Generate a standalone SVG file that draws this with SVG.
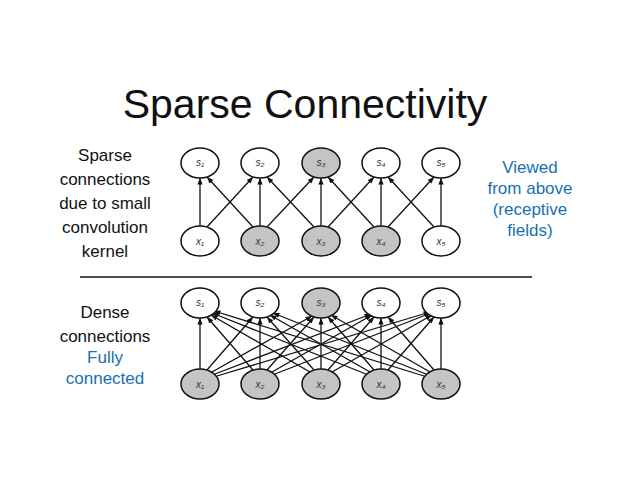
<svg xmlns="http://www.w3.org/2000/svg" width="638" height="478" viewBox="0 0 638 478">
<defs>
<marker id="ah" viewBox="0 0 10 10" refX="10" refY="5" markerWidth="5" markerHeight="5" orient="auto"><path d="M0,1 L10,5 L0,9 z" fill="#111"/></marker>
<style>
.n{stroke:#111;stroke-width:1.5;fill:#fff}
.g{fill:#c4c4c4}
.e line{stroke:#111;stroke-width:1.3;marker-end:url(#ah)}
.t{font-family:"Liberation Sans",Arial,sans-serif;font-size:17px;fill:#111;text-anchor:middle}
.b{fill:#1a6fb0}
.v{font-family:"Liberation Sans",Arial,sans-serif;font-size:10px;font-style:italic;fill:#333;text-anchor:middle}
</style>
</defs>
<rect width="638" height="478" fill="#fff"/>
<text x="305" y="118" font-family="Liberation Sans,Arial,sans-serif" font-size="41" text-anchor="middle" fill="#111">Sparse Connectivity</text>
<g id="left-top" class="t"><text x="105" y="161">Sparse</text><text x="105" y="185">connections</text><text x="105" y="209">due to small</text><text x="105" y="233">convolution</text><text x="105" y="257">kernel</text></g>
<g id="right-top" class="t b"><text x="530" y="173" class="t b">Viewed</text><text x="530" y="194" class="t b">from above</text><text x="530" y="215" class="t b">(receptive</text><text x="530" y="236" class="t b">fields)</text></g>
<g id="left-bottom" class="t"><text x="105" y="318">Dense</text><text x="105" y="342">connections</text><text x="105" y="363" class="t b">Fully</text><text x="105" y="384" class="t b">connected</text></g>
<line x1="80" y1="277" x2="532" y2="277" stroke="#111" stroke-width="1.5"/>
<g id="connectors" class="e">
<line x1="200" y1="226" x2="200" y2="178"/><line x1="207" y1="227" x2="253" y2="177"/>
<line x1="253" y1="227" x2="207" y2="177" stroke-width="2.5"/><line x1="260" y1="226" x2="260" y2="178" stroke-width="2.5"/><line x1="267" y1="227" x2="314" y2="177"/>
<line x1="314" y1="227" x2="267" y2="177"/><line x1="321" y1="226" x2="321" y2="178"/><line x1="328" y1="227" x2="374" y2="177" stroke-width="2.5"/>
<line x1="374" y1="227" x2="328" y2="177"/><line x1="381" y1="226" x2="381" y2="178"/><line x1="388" y1="227" x2="434" y2="177"/>
<line x1="434" y1="227" x2="388" y2="177"/><line x1="441" y1="226" x2="441" y2="178"/>
<line x1="200" y1="369" x2="200" y2="318"/><line x1="207" y1="370" x2="253" y2="317"/><line x1="212" y1="372" x2="312" y2="316"/><line x1="215" y1="374" x2="371" y2="314"/><line x1="217" y1="376" x2="430" y2="312"/>
<line x1="253" y1="370" x2="207" y2="317"/><line x1="260" y1="369" x2="260" y2="318"/><line x1="267" y1="370" x2="314" y2="317"/><line x1="272" y1="372" x2="372" y2="315"/><line x1="275" y1="374" x2="431" y2="313"/>
<line x1="310" y1="372" x2="211" y2="315"/><line x1="314" y1="370" x2="267" y2="317"/><line x1="321" y1="369" x2="321" y2="318"/><line x1="328" y1="370" x2="374" y2="317"/><line x1="332" y1="372" x2="432" y2="315"/>
<line x1="366" y1="374" x2="212" y2="313"/><line x1="370" y1="372" x2="270" y2="315"/><line x1="374" y1="370" x2="328" y2="317"/><line x1="381" y1="369" x2="381" y2="318"/><line x1="388" y1="370" x2="434" y2="317"/>
<line x1="424" y1="376" x2="214" y2="311"/><line x1="426" y1="374" x2="273" y2="313"/><line x1="430" y1="372" x2="331" y2="315"/><line x1="434" y1="370" x2="388" y2="317"/><line x1="441" y1="369" x2="441" y2="318"/>
</g>
<g id="s-top">
<ellipse class="n" cx="200" cy="163" rx="19" ry="15"/><text class="v" x="200" y="166">s₁</text>
<ellipse class="n" cx="260" cy="163" rx="19" ry="15"/><text class="v" x="260" y="166">s₂</text>
<ellipse class="n g" cx="321" cy="163" rx="19" ry="15"/><text class="v" x="321" y="166">s₃</text>
<ellipse class="n" cx="381" cy="163" rx="19" ry="15"/><text class="v" x="381" y="166">s₄</text>
<ellipse class="n" cx="441" cy="163" rx="19" ry="15"/><text class="v" x="441" y="166">s₅</text>
</g>
<g id="x-top">
<ellipse class="n" cx="200" cy="241" rx="19" ry="15"/><text class="v" x="200" y="245">x₁</text>
<ellipse class="n g" cx="260" cy="241" rx="19" ry="15"/><text class="v" x="260" y="245">x₂</text>
<ellipse class="n g" cx="321" cy="241" rx="19" ry="15"/><text class="v" x="321" y="245">x₃</text>
<ellipse class="n g" cx="381" cy="241" rx="19" ry="15"/><text class="v" x="381" y="245">x₄</text>
<ellipse class="n" cx="441" cy="241" rx="19" ry="15"/><text class="v" x="441" y="245">x₅</text>
</g>
<g id="s-bottom">
<ellipse class="n" cx="200" cy="303" rx="19" ry="15"/><text class="v" x="200" y="306">s₁</text>
<ellipse class="n" cx="260" cy="303" rx="19" ry="15"/><text class="v" x="260" y="306">s₂</text>
<ellipse class="n g" cx="321" cy="303" rx="19" ry="15"/><text class="v" x="321" y="306">s₃</text>
<ellipse class="n" cx="381" cy="303" rx="19" ry="15"/><text class="v" x="381" y="306">s₄</text>
<ellipse class="n" cx="441" cy="303" rx="19" ry="15"/><text class="v" x="441" y="306">s₅</text>
</g>
<g id="x-bottom">
<ellipse class="n g" cx="200" cy="384" rx="19" ry="15"/><text class="v" x="200" y="388">x₁</text>
<ellipse class="n g" cx="260" cy="384" rx="19" ry="15"/><text class="v" x="260" y="388">x₂</text>
<ellipse class="n g" cx="321" cy="384" rx="19" ry="15"/><text class="v" x="321" y="388">x₃</text>
<ellipse class="n g" cx="381" cy="384" rx="19" ry="15"/><text class="v" x="381" y="388">x₄</text>
<ellipse class="n g" cx="441" cy="384" rx="19" ry="15"/><text class="v" x="441" y="388">x₅</text>
</g>
</svg>
